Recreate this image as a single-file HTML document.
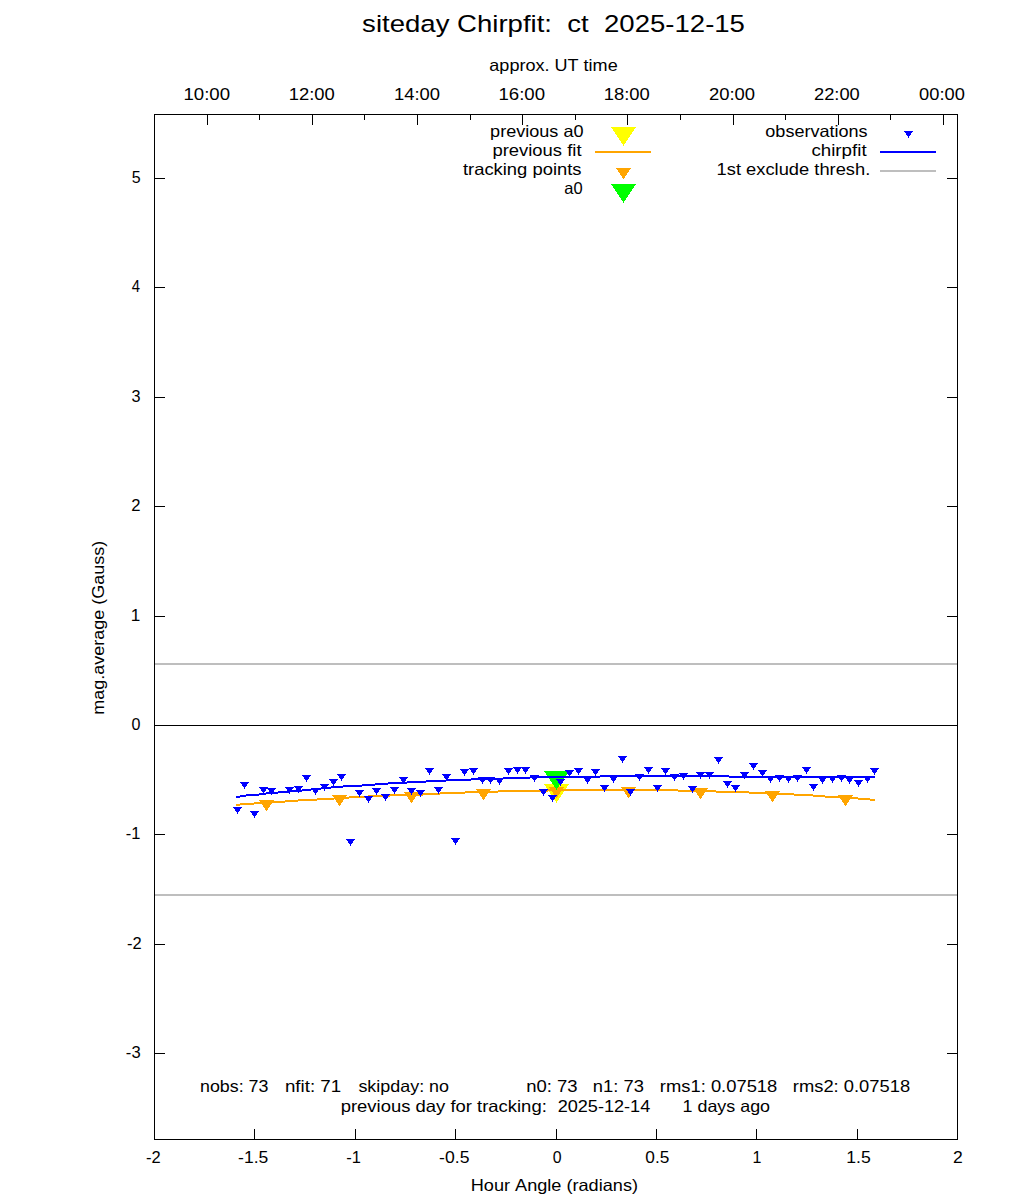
<!DOCTYPE html>
<html><head><meta charset="utf-8"><title>siteday Chirpfit</title>
<style>html,body{margin:0;padding:0;background:#fff;} svg{display:block;}</style></head>
<body><svg width="1024" height="1200" viewBox="0 0 1024 1200">
<rect x="0" y="0" width="1024" height="1200" fill="#fff"/>
<g shape-rendering="crispEdges">
<rect x="154" y="663" width="804" height="2" fill="#bebebe"/>
<rect x="154" y="894" width="804" height="2" fill="#bebebe"/>
</g>
<g fill="#000" shape-rendering="crispEdges">
<rect x="154" y="114" width="804" height="1"/>
<rect x="154" y="1139" width="804" height="1"/>
<rect x="154" y="114" width="1" height="1026"/>
<rect x="957" y="114" width="1" height="1026"/>
<rect x="154" y="725" width="804" height="1"/>
<rect x="154" y="1053" width="11" height="1"/>
<rect x="947" y="1053" width="11" height="1"/>
<rect x="154" y="944" width="11" height="1"/>
<rect x="947" y="944" width="11" height="1"/>
<rect x="154" y="834" width="11" height="1"/>
<rect x="947" y="834" width="11" height="1"/>
<rect x="154" y="725" width="11" height="1"/>
<rect x="947" y="725" width="11" height="1"/>
<rect x="154" y="616" width="11" height="1"/>
<rect x="947" y="616" width="11" height="1"/>
<rect x="154" y="506" width="11" height="1"/>
<rect x="947" y="506" width="11" height="1"/>
<rect x="154" y="397" width="11" height="1"/>
<rect x="947" y="397" width="11" height="1"/>
<rect x="154" y="287" width="11" height="1"/>
<rect x="947" y="287" width="11" height="1"/>
<rect x="154" y="178" width="11" height="1"/>
<rect x="947" y="178" width="11" height="1"/>
<rect x="154" y="1129" width="1" height="11"/>
<rect x="254" y="1129" width="1" height="11"/>
<rect x="355" y="1129" width="1" height="11"/>
<rect x="455" y="1129" width="1" height="11"/>
<rect x="556" y="1129" width="1" height="11"/>
<rect x="656" y="1129" width="1" height="11"/>
<rect x="756" y="1129" width="1" height="11"/>
<rect x="857" y="1129" width="1" height="11"/>
<rect x="957" y="1129" width="1" height="11"/>
<rect x="207" y="114" width="1" height="11"/>
<rect x="259" y="114" width="1" height="6"/>
<rect x="312" y="114" width="1" height="11"/>
<rect x="364" y="114" width="1" height="6"/>
<rect x="417" y="114" width="1" height="11"/>
<rect x="470" y="114" width="1" height="6"/>
<rect x="522" y="114" width="1" height="11"/>
<rect x="575" y="114" width="1" height="6"/>
<rect x="627" y="114" width="1" height="11"/>
<rect x="680" y="114" width="1" height="6"/>
<rect x="733" y="114" width="1" height="11"/>
<rect x="785" y="114" width="1" height="6"/>
<rect x="838" y="114" width="1" height="11"/>
<rect x="890" y="114" width="1" height="6"/>
<rect x="943" y="114" width="1" height="11"/>
</g>
<g font-family="'Liberation Sans', sans-serif" style="font-kerning:none">
<text x="362.13" y="32.00" font-size="24.5" textLength="382.82" lengthAdjust="spacingAndGlyphs" fill="#000">siteday&#160;Chirpfit:&#160;&#160;ct&#160;&#160;2025-12-15</text>
<text x="489.33" y="71.00" font-size="16.5" textLength="128.37" lengthAdjust="spacingAndGlyphs" fill="#000">approx.&#160;UT&#160;time</text>
<text x="183.48" y="100.00" font-size="16.9" textLength="46.65" lengthAdjust="spacingAndGlyphs" fill="#000">10:00</text>
<text x="288.70" y="100.00" font-size="16.9" textLength="46.12" lengthAdjust="spacingAndGlyphs" fill="#000">12:00</text>
<text x="394.00" y="100.00" font-size="16.9" textLength="46.12" lengthAdjust="spacingAndGlyphs" fill="#000">14:00</text>
<text x="498.48" y="100.00" font-size="16.9" textLength="46.65" lengthAdjust="spacingAndGlyphs" fill="#000">16:00</text>
<text x="603.70" y="100.00" font-size="16.9" textLength="46.12" lengthAdjust="spacingAndGlyphs" fill="#000">18:00</text>
<text x="708.97" y="100.00" font-size="16.9" textLength="46.15" lengthAdjust="spacingAndGlyphs" fill="#000">20:00</text>
<text x="813.98" y="100.00" font-size="16.9" textLength="45.84" lengthAdjust="spacingAndGlyphs" fill="#000">22:00</text>
<text x="919.09" y="100.00" font-size="16.9" textLength="45.73" lengthAdjust="spacingAndGlyphs" fill="#000">00:00</text>
<text x="131.66" y="183.00" font-size="16.9" textLength="8.91" lengthAdjust="spacingAndGlyphs" fill="#000">5</text>
<text x="131.86" y="292.00" font-size="16.9" textLength="8.28" lengthAdjust="spacingAndGlyphs" fill="#000">4</text>
<text x="131.58" y="402.00" font-size="16.9" textLength="9.03" lengthAdjust="spacingAndGlyphs" fill="#000">3</text>
<text x="131.36" y="511.00" font-size="16.9" textLength="9.28" lengthAdjust="spacingAndGlyphs" fill="#000">2</text>
<text x="130.89" y="621.00" font-size="16.9" textLength="9.55" lengthAdjust="spacingAndGlyphs" fill="#000">1</text>
<text x="131.57" y="730.00" font-size="16.9" textLength="8.96" lengthAdjust="spacingAndGlyphs" fill="#000">0</text>
<text x="125.87" y="839.00" font-size="16.9" textLength="14.64" lengthAdjust="spacingAndGlyphs" fill="#000">-1</text>
<text x="126.97" y="949.00" font-size="16.9" textLength="14.66" lengthAdjust="spacingAndGlyphs" fill="#000">-2</text>
<text x="125.86" y="1058.00" font-size="16.9" textLength="14.77" lengthAdjust="spacingAndGlyphs" fill="#000">-3</text>
<text x="145.97" y="1163.00" font-size="16.9" textLength="14.66" lengthAdjust="spacingAndGlyphs" fill="#000">-2</text>
<text x="238.12" y="1163.00" font-size="16.9" textLength="30.22" lengthAdjust="spacingAndGlyphs" fill="#000">-1.5</text>
<text x="346.17" y="1163.00" font-size="16.9" textLength="14.64" lengthAdjust="spacingAndGlyphs" fill="#000">-1</text>
<text x="439.12" y="1163.00" font-size="16.9" textLength="30.32" lengthAdjust="spacingAndGlyphs" fill="#000">-0.5</text>
<text x="552.78" y="1163.00" font-size="16.9" textLength="8.84" lengthAdjust="spacingAndGlyphs" fill="#000">0</text>
<text x="645.33" y="1163.00" font-size="16.9" textLength="24.00" lengthAdjust="spacingAndGlyphs" fill="#000">0.5</text>
<text x="752.38" y="1163.00" font-size="16.9" textLength="8.90" lengthAdjust="spacingAndGlyphs" fill="#000">1</text>
<text x="846.26" y="1163.00" font-size="16.9" textLength="24.48" lengthAdjust="spacingAndGlyphs" fill="#000">1.5</text>
<text x="952.92" y="1163.00" font-size="16.9" textLength="9.77" lengthAdjust="spacingAndGlyphs" fill="#000">2</text>
<text x="470.71" y="1191.00" font-size="16.5" textLength="167.31" lengthAdjust="spacingAndGlyphs" fill="#000">Hour&#160;Angle&#160;(radians)</text>
<text x="490.14" y="137.00" font-size="16.5" textLength="93.37" lengthAdjust="spacingAndGlyphs" fill="#000">previous&#160;a0</text>
<text x="492.41" y="156.00" font-size="16.5" textLength="89.12" lengthAdjust="spacingAndGlyphs" fill="#000">previous&#160;fit</text>
<text x="462.92" y="175.00" font-size="16.5" textLength="118.64" lengthAdjust="spacingAndGlyphs" fill="#000">tracking&#160;points</text>
<text x="564.30" y="194.00" font-size="16.5" textLength="18.34" lengthAdjust="spacingAndGlyphs" fill="#000">a0</text>
<text x="765.34" y="137.00" font-size="16.5" textLength="102.31" lengthAdjust="spacingAndGlyphs" fill="#000">observations</text>
<text x="811.40" y="156.00" font-size="16.5" textLength="55.23" lengthAdjust="spacingAndGlyphs" fill="#000">chirpfit</text>
<text x="716.61" y="175.00" font-size="16.5" textLength="153.67" lengthAdjust="spacingAndGlyphs" fill="#000">1st&#160;exclude&#160;thresh.</text>
<text x="200.02" y="1092.00" font-size="16.5" textLength="68.37" lengthAdjust="spacingAndGlyphs" fill="#000">nobs:&#160;73</text>
<text x="284.96" y="1092.00" font-size="16.5" textLength="56.26" lengthAdjust="spacingAndGlyphs" fill="#000">nfit:&#160;71</text>
<text x="358.40" y="1092.00" font-size="16.5" textLength="90.65" lengthAdjust="spacingAndGlyphs" fill="#000">skipday:&#160;no</text>
<text x="526.17" y="1092.00" font-size="16.5" textLength="51.34" lengthAdjust="spacingAndGlyphs" fill="#000">n0:&#160;73</text>
<text x="592.88" y="1092.00" font-size="16.5" textLength="51.03" lengthAdjust="spacingAndGlyphs" fill="#000">n1:&#160;73</text>
<text x="659.88" y="1092.00" font-size="16.5" textLength="117.42" lengthAdjust="spacingAndGlyphs" fill="#000">rms1:&#160;0.07518</text>
<text x="792.88" y="1092.00" font-size="16.5" textLength="117.21" lengthAdjust="spacingAndGlyphs" fill="#000">rms2:&#160;0.07518</text>
<text x="340.71" y="1112.00" font-size="16.5" textLength="206.07" lengthAdjust="spacingAndGlyphs" fill="#000">previous&#160;day&#160;for&#160;tracking:</text>
<text x="557.69" y="1112.00" font-size="16.5" textLength="92.54" lengthAdjust="spacingAndGlyphs" fill="#000">2025-12-14</text>
<text x="682.54" y="1112.00" font-size="16.5" textLength="87.51" lengthAdjust="spacingAndGlyphs" fill="#000">1&#160;days&#160;ago</text>
</g>
<text transform="translate(104.3,714.69) rotate(-90)" x="0" y="0" font-size="16.5" textLength="173.81" lengthAdjust="spacingAndGlyphs" font-family="'Liberation Sans', sans-serif" style="font-kerning:none">mag.average&#160;(Gauss)</text>
<g shape-rendering="crispEdges">
<polygon points="544.00,784 569.00,784 556.50,803" fill="#ffff00"/>
<rect x="236" y="804" width="4" height="2" fill="#ffa500"/>
<rect x="240" y="803" width="14" height="2" fill="#ffa500"/>
<rect x="254" y="802" width="14" height="2" fill="#ffa500"/>
<rect x="268" y="801" width="17" height="2" fill="#ffa500"/>
<rect x="285" y="800" width="13" height="2" fill="#ffa500"/>
<rect x="298" y="799" width="19" height="2" fill="#ffa500"/>
<rect x="317" y="798" width="17" height="2" fill="#ffa500"/>
<rect x="334" y="797" width="15" height="2" fill="#ffa500"/>
<rect x="349" y="796" width="19" height="2" fill="#ffa500"/>
<rect x="368" y="795" width="22" height="2" fill="#ffa500"/>
<rect x="390" y="794" width="33" height="2" fill="#ffa500"/>
<rect x="423" y="793" width="17" height="2" fill="#ffa500"/>
<rect x="440" y="792" width="25" height="2" fill="#ffa500"/>
<rect x="465" y="791" width="33" height="2" fill="#ffa500"/>
<rect x="498" y="790" width="50" height="2" fill="#ffa500"/>
<rect x="548" y="789" width="130" height="2" fill="#ffa500"/>
<rect x="678" y="790" width="38" height="2" fill="#ffa500"/>
<rect x="716" y="791" width="33" height="2" fill="#ffa500"/>
<rect x="749" y="792" width="23" height="2" fill="#ffa500"/>
<rect x="772" y="793" width="22" height="2" fill="#ffa500"/>
<rect x="794" y="794" width="19" height="2" fill="#ffa500"/>
<rect x="813" y="795" width="12" height="2" fill="#ffa500"/>
<rect x="825" y="796" width="18" height="2" fill="#ffa500"/>
<rect x="843" y="797" width="15" height="2" fill="#ffa500"/>
<rect x="858" y="798" width="12" height="2" fill="#ffa500"/>
<rect x="870" y="799" width="5" height="2" fill="#ffa500"/>
<polygon points="259.00,800 274.00,800 266.50,811" fill="#ffa500"/>
<polygon points="332.00,795 347.00,795 339.50,806" fill="#ffa500"/>
<polygon points="404.00,792 419.00,792 411.50,803" fill="#ffa500"/>
<polygon points="476.00,789 491.00,789 483.50,800" fill="#ffa500"/>
<polygon points="549.00,787 564.00,787 556.50,798" fill="#ffa500"/>
<polygon points="621.00,787 636.00,787 628.50,798" fill="#ffa500"/>
<polygon points="693.00,788 708.00,788 700.50,799" fill="#ffa500"/>
<polygon points="765.00,791 780.00,791 772.50,802" fill="#ffa500"/>
<polygon points="838.00,795 853.00,795 845.50,806" fill="#ffa500"/>
<polygon points="544.00,771 569.00,771 556.50,790" fill="#00ff00"/>
<polygon points="233.00,807 242.00,807 237.50,814" fill="#0000ff"/>
<polygon points="240.00,782 249.00,782 244.50,789" fill="#0000ff"/>
<polygon points="250.00,811 259.00,811 254.50,818" fill="#0000ff"/>
<polygon points="259.00,787 268.00,787 263.50,794" fill="#0000ff"/>
<polygon points="267.00,788 276.00,788 271.50,795" fill="#0000ff"/>
<polygon points="285.00,787 294.00,787 289.50,794" fill="#0000ff"/>
<polygon points="294.00,786 303.00,786 298.50,793" fill="#0000ff"/>
<polygon points="302.00,775 311.00,775 306.50,782" fill="#0000ff"/>
<polygon points="311.00,788 320.00,788 315.50,795" fill="#0000ff"/>
<polygon points="320.00,784 329.00,784 324.50,791" fill="#0000ff"/>
<polygon points="329.00,779 338.00,779 333.50,786" fill="#0000ff"/>
<polygon points="337.00,774 346.00,774 341.50,781" fill="#0000ff"/>
<polygon points="346.00,839 355.00,839 350.50,846" fill="#0000ff"/>
<polygon points="355.00,790 364.00,790 359.50,797" fill="#0000ff"/>
<polygon points="364.00,796 373.00,796 368.50,803" fill="#0000ff"/>
<polygon points="372.00,788 381.00,788 376.50,795" fill="#0000ff"/>
<polygon points="381.00,794 390.00,794 385.50,801" fill="#0000ff"/>
<polygon points="390.00,787 399.00,787 394.50,794" fill="#0000ff"/>
<polygon points="399.00,777 408.00,777 403.50,784" fill="#0000ff"/>
<polygon points="407.00,788 416.00,788 411.50,795" fill="#0000ff"/>
<polygon points="416.00,790 425.00,790 420.50,797" fill="#0000ff"/>
<polygon points="425.00,768 434.00,768 429.50,775" fill="#0000ff"/>
<polygon points="434.00,787 443.00,787 438.50,794" fill="#0000ff"/>
<polygon points="442.00,774 451.00,774 446.50,781" fill="#0000ff"/>
<polygon points="451.00,838 460.00,838 455.50,845" fill="#0000ff"/>
<polygon points="460.00,769 469.00,769 464.50,776" fill="#0000ff"/>
<polygon points="469.00,768 478.00,768 473.50,775" fill="#0000ff"/>
<polygon points="478.00,777 487.00,777 482.50,784" fill="#0000ff"/>
<polygon points="486.00,777 495.00,777 490.50,784" fill="#0000ff"/>
<polygon points="495.00,778 504.00,778 499.50,785" fill="#0000ff"/>
<polygon points="504.00,768 513.00,768 508.50,775" fill="#0000ff"/>
<polygon points="513.00,767 522.00,767 517.50,774" fill="#0000ff"/>
<polygon points="521.00,767 530.00,767 525.50,774" fill="#0000ff"/>
<polygon points="530.00,775 539.00,775 534.50,782" fill="#0000ff"/>
<polygon points="539.00,789 548.00,789 543.50,796" fill="#0000ff"/>
<polygon points="548.00,795 557.00,795 552.50,802" fill="#0000ff"/>
<polygon points="556.00,779 565.00,779 560.50,786" fill="#0000ff"/>
<polygon points="565.00,770 574.00,770 569.50,777" fill="#0000ff"/>
<polygon points="574.00,768 583.00,768 578.50,775" fill="#0000ff"/>
<polygon points="583.00,777 592.00,777 587.50,784" fill="#0000ff"/>
<polygon points="591.00,769 600.00,769 595.50,776" fill="#0000ff"/>
<polygon points="600.00,785 609.00,785 604.50,792" fill="#0000ff"/>
<polygon points="609.00,776 618.00,776 613.50,783" fill="#0000ff"/>
<polygon points="618.00,756 627.00,756 622.50,763" fill="#0000ff"/>
<polygon points="626.00,789 635.00,789 630.50,796" fill="#0000ff"/>
<polygon points="635.00,774 644.00,774 639.50,781" fill="#0000ff"/>
<polygon points="644.00,767 653.00,767 648.50,774" fill="#0000ff"/>
<polygon points="653.00,785 662.00,785 657.50,792" fill="#0000ff"/>
<polygon points="661.00,768 670.00,768 665.50,775" fill="#0000ff"/>
<polygon points="670.00,774 679.00,774 674.50,781" fill="#0000ff"/>
<polygon points="679.00,773 688.00,773 683.50,780" fill="#0000ff"/>
<polygon points="688.00,786 697.00,786 692.50,793" fill="#0000ff"/>
<polygon points="696.00,772 705.00,772 700.50,779" fill="#0000ff"/>
<polygon points="705.00,772 714.00,772 709.50,779" fill="#0000ff"/>
<polygon points="714.00,757 723.00,757 718.50,764" fill="#0000ff"/>
<polygon points="723.00,781 732.00,781 727.50,788" fill="#0000ff"/>
<polygon points="731.00,785 740.00,785 735.50,792" fill="#0000ff"/>
<polygon points="740.00,772 749.00,772 744.50,779" fill="#0000ff"/>
<polygon points="749.00,763 758.00,763 753.50,770" fill="#0000ff"/>
<polygon points="758.00,770 767.00,770 762.50,777" fill="#0000ff"/>
<polygon points="766.00,776 775.00,776 770.50,783" fill="#0000ff"/>
<polygon points="775.00,775 784.00,775 779.50,782" fill="#0000ff"/>
<polygon points="784.00,776 793.00,776 788.50,783" fill="#0000ff"/>
<polygon points="793.00,775 802.00,775 797.50,782" fill="#0000ff"/>
<polygon points="802.00,767 811.00,767 806.50,774" fill="#0000ff"/>
<polygon points="809.00,784 818.00,784 813.50,791" fill="#0000ff"/>
<polygon points="818.00,777 827.00,777 822.50,784" fill="#0000ff"/>
<polygon points="828.00,776 837.00,776 832.50,783" fill="#0000ff"/>
<polygon points="837.00,775 846.00,775 841.50,782" fill="#0000ff"/>
<polygon points="845.00,777 854.00,777 849.50,784" fill="#0000ff"/>
<polygon points="854.00,780 863.00,780 858.50,787" fill="#0000ff"/>
<polygon points="863.00,776 872.00,776 867.50,783" fill="#0000ff"/>
<polygon points="870.00,768 879.00,768 874.50,775" fill="#0000ff"/>
<rect x="236" y="796" width="4" height="2" fill="#0000ff"/>
<rect x="240" y="795" width="6" height="2" fill="#0000ff"/>
<rect x="246" y="794" width="13" height="2" fill="#0000ff"/>
<rect x="259" y="793" width="7" height="2" fill="#0000ff"/>
<rect x="266" y="792" width="12" height="2" fill="#0000ff"/>
<rect x="278" y="791" width="11" height="2" fill="#0000ff"/>
<rect x="289" y="790" width="13" height="2" fill="#0000ff"/>
<rect x="302" y="789" width="9" height="2" fill="#0000ff"/>
<rect x="311" y="788" width="10" height="2" fill="#0000ff"/>
<rect x="321" y="787" width="10" height="2" fill="#0000ff"/>
<rect x="331" y="786" width="12" height="2" fill="#0000ff"/>
<rect x="343" y="785" width="19" height="2" fill="#0000ff"/>
<rect x="362" y="784" width="13" height="2" fill="#0000ff"/>
<rect x="375" y="783" width="13" height="2" fill="#0000ff"/>
<rect x="388" y="782" width="19" height="2" fill="#0000ff"/>
<rect x="407" y="781" width="19" height="2" fill="#0000ff"/>
<rect x="426" y="780" width="20" height="2" fill="#0000ff"/>
<rect x="446" y="779" width="25" height="2" fill="#0000ff"/>
<rect x="471" y="778" width="32" height="2" fill="#0000ff"/>
<rect x="503" y="777" width="27" height="2" fill="#0000ff"/>
<rect x="530" y="776" width="70" height="2" fill="#0000ff"/>
<rect x="600" y="775" width="129" height="2" fill="#0000ff"/>
<rect x="729" y="776" width="146" height="2" fill="#0000ff"/>
<polygon points="611.00,127 636.00,127 623.50,146" fill="#ffff00"/>
<rect x="595" y="151" width="56" height="2" fill="#ffa500"/>
<polygon points="616.00,168 631.00,168 623.50,179" fill="#ffa500"/>
<polygon points="611.00,184 636.00,184 623.50,203" fill="#00ff00"/>
<polygon points="904.00,131 913.00,131 908.50,138" fill="#0000ff"/>
<rect x="880" y="151" width="56" height="2" fill="#0000ff"/>
<rect x="880" y="170" width="56" height="2" fill="#bebebe"/>
</g>
</svg></body></html>
